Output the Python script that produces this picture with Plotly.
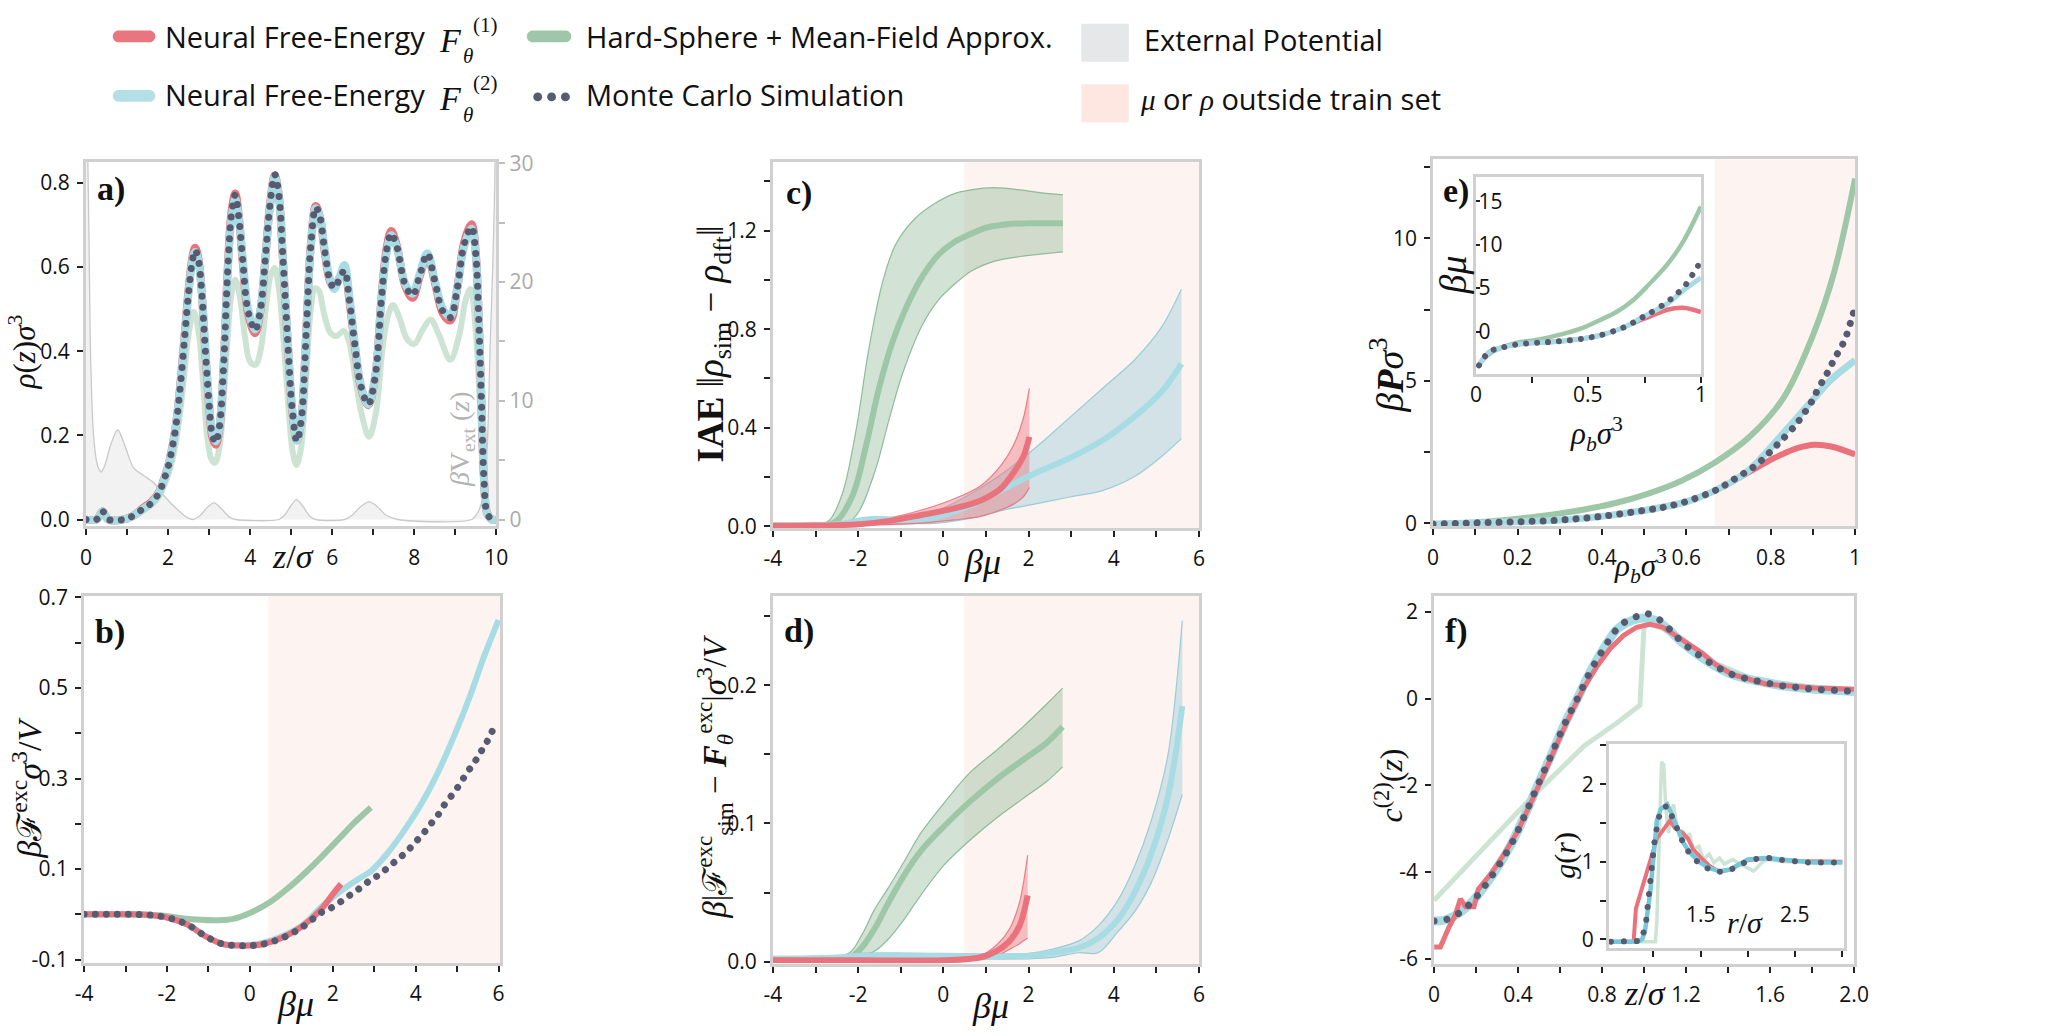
import plotly.graph_objects as go

W, H = 2048, 1036

# ---------------- data ----------------
# (a) density profiles and external potential
a_z = [0, 0.25, 0.32, 0.4, 0.48, 0.55, 0.9, 1.13, 1.38, 1.6, 1.78, 1.9, 2.0, 2.1, 2.2, 2.3, 2.4, 2.5,
       2.6, 2.66, 2.74, 2.82, 2.9, 3.0, 3.08, 3.16, 3.25, 3.35, 3.45, 3.55, 3.64, 3.72, 3.82, 3.95,
       4.12, 4.25, 4.37, 4.48, 4.6, 4.7, 4.8, 4.92, 5.03, 5.14, 5.25, 5.37, 5.48, 5.6, 5.7, 5.82,
       5.95, 6.05, 6.18, 6.3, 6.42, 6.55, 6.7, 6.88, 7.05, 7.2, 7.32, 7.44, 7.58, 7.78, 7.96, 8.14,
       8.32, 8.5, 8.7, 8.88, 9.05, 9.22, 9.4, 9.5, 9.58, 9.64, 9.7, 9.78, 9.9, 10]
a_blue = [0, 0, 0.008, 0.02, 0.008, 0, 0, 0.008, 0.025, 0.04, 0.064, 0.095, 0.125, 0.17, 0.23, 0.32,
          0.43, 0.54, 0.62, 0.636, 0.615, 0.54, 0.42, 0.28, 0.205, 0.186, 0.22, 0.36, 0.58, 0.72,
          0.762, 0.72, 0.62, 0.5, 0.452, 0.5, 0.62, 0.74, 0.815, 0.77, 0.62, 0.42, 0.26, 0.188, 0.24,
          0.45, 0.65, 0.74, 0.72, 0.64, 0.57, 0.548, 0.575, 0.605, 0.53, 0.42, 0.32, 0.274, 0.34,
          0.52, 0.63, 0.676, 0.645, 0.56, 0.537, 0.585, 0.633, 0.57, 0.5, 0.483, 0.55, 0.65, 0.691,
          0.63, 0.46, 0.28, 0.1, 0.015, 0, 0]
a_red = [0, 0, 0.008, 0.02, 0.008, 0, 0, 0.008, 0.027, 0.043, 0.066, 0.097, 0.127, 0.172, 0.232, 0.324,
         0.436, 0.548, 0.628, 0.646, 0.62, 0.54, 0.41, 0.27, 0.195, 0.178, 0.215, 0.36, 0.59, 0.735,
         0.775, 0.725, 0.61, 0.49, 0.443, 0.495, 0.62, 0.745, 0.818, 0.77, 0.615, 0.415, 0.255, 0.188,
         0.24, 0.45, 0.655, 0.745, 0.72, 0.635, 0.565, 0.552, 0.575, 0.592, 0.52, 0.415, 0.315,
         0.272, 0.34, 0.525, 0.64, 0.686, 0.65, 0.555, 0.527, 0.58, 0.628, 0.565, 0.49, 0.473, 0.55,
         0.66, 0.702, 0.635, 0.46, 0.28, 0.1, 0.015, 0, 0]
a_mc = [0, 0, 0.008, 0.02, 0.008, 0, 0, 0.008, 0.025, 0.04, 0.064, 0.095, 0.125, 0.17, 0.23, 0.32,
        0.43, 0.54, 0.62, 0.64, 0.617, 0.54, 0.415, 0.275, 0.2, 0.183, 0.22, 0.36, 0.585, 0.73,
        0.772, 0.722, 0.615, 0.495, 0.45, 0.498, 0.62, 0.745, 0.82, 0.772, 0.62, 0.418, 0.258, 0.186,
        0.24, 0.45, 0.652, 0.742, 0.72, 0.637, 0.567, 0.55, 0.572, 0.592, 0.522, 0.418, 0.318,
        0.274, 0.34, 0.522, 0.636, 0.68, 0.648, 0.558, 0.533, 0.582, 0.632, 0.568, 0.495, 0.48,
        0.55, 0.655, 0.695, 0.632, 0.46, 0.28, 0.1, 0.015, 0, 0]
a_z_green = [0, 0.25, 0.32, 0.4, 0.48, 0.55, 0.9, 1.13, 1.38, 1.6, 1.78, 1.9, 2.0, 2.1, 2.2, 2.3, 2.4,
             2.5, 2.62, 2.74, 2.85, 2.95, 3.05, 3.14, 3.25, 3.35, 3.45, 3.55, 3.64, 3.75, 3.88, 4.0,
             4.13, 4.25, 4.38, 4.5, 4.6, 4.7, 4.82, 4.94, 5.04, 5.13, 5.24, 5.36, 5.48, 5.58, 5.67,
             5.8, 5.95, 6.1, 6.28, 6.42, 6.56, 6.72, 6.9, 7.06, 7.22, 7.35, 7.48, 7.64, 7.82, 8.0,
             8.2, 8.4, 8.6, 8.88, 9.1, 9.25, 9.37, 9.5, 9.6, 9.68, 9.75, 9.85, 10]
a_green = [0, 0, 0.006, 0.015, 0.006, 0, 0, 0.006, 0.02, 0.035, 0.055, 0.08, 0.105, 0.14, 0.19, 0.26,
           0.35, 0.44, 0.494, 0.45, 0.33, 0.2, 0.145, 0.135, 0.17, 0.28, 0.43, 0.54, 0.57, 0.53, 0.43,
           0.375, 0.368, 0.40, 0.5, 0.58, 0.598, 0.55, 0.42, 0.26, 0.16, 0.13, 0.17, 0.33, 0.5, 0.55,
           0.545, 0.49, 0.445, 0.436, 0.448, 0.42, 0.34, 0.25, 0.197, 0.25, 0.4, 0.48, 0.51, 0.48,
           0.43, 0.417, 0.45, 0.475, 0.44, 0.38, 0.44, 0.52, 0.548, 0.45, 0.28, 0.12, 0.03, 0, 0]
a_z_ext = [0, 0.03, 0.07, 0.1, 0.14, 0.18, 0.25, 0.32, 0.37, 0.45, 0.6, 0.77, 0.95, 1.15, 1.4, 1.65,
           1.9, 2.2, 2.45, 2.6, 2.8, 2.95, 3.12, 3.3, 3.5, 3.65, 4.7, 4.85, 5.0, 5.13, 5.27, 5.45,
           5.6, 6.3, 6.5, 6.7, 6.9, 7.1, 7.3, 7.6, 9.4, 9.55, 9.69, 9.78, 9.85, 9.92, 9.97, 10]
a_ext = [40, 33, 24, 15.5, 10, 7.2, 5.0, 4.2, 4.0, 4.5, 6.3, 7.56, 6.2, 4.4, 3.7, 3.1, 2.0, 0.93, 0.2,
         0.0, 0.4, 1.0, 1.4, 0.9, 0.2, 0.0, 0.0, 0.4, 1.2, 1.67, 1.2, 0.3, 0.0, 0.0, 0.4, 1.1, 1.48,
         1.1, 0.4, 0.0, 0.0, 0.6, 2.0, 6.0, 14.4, 22, 29.4, 40]

# (b) excess free energy
b_mu_red = [-4, -3, -2.5, -2.0, -1.52, -1.04, -0.64, -0.25, 0.03, 0.31, 0.79, 1.27, 1.74, 1.98, 2.2]
b_red = [0.0, 0.0, -0.001, -0.007, -0.022, -0.05, -0.066, -0.069, -0.069, -0.066, -0.051, -0.026,
         0.013, 0.042, 0.067]
b_mu_blue = [-4, -3, -2.5, -2.0, -1.52, -1.04, -0.64, -0.25, 0.03, 0.31, 0.79, 1.27, 1.74, 2.22, 2.62,
             2.94, 3.33, 3.73, 4.13, 4.53, 4.93, 5.32, 5.64, 6.0]
b_blue = [0.0, 0.0, -0.001, -0.007, -0.022, -0.05, -0.066, -0.068, -0.067, -0.063, -0.048, -0.024,
          0.018, 0.053, 0.078, 0.097, 0.136, 0.186, 0.243, 0.312, 0.394, 0.484, 0.567, 0.65]
b_mu_mc = [-4, -3, -2.5, -2.0, -1.52, -1.04, -0.64, -0.25, 0.03, 0.31, 0.79, 1.27, 1.74, 1.98, 2.21,
           2.44, 2.66, 2.90, 3.11, 3.33, 3.56, 3.77, 3.97, 4.17, 4.35, 4.53, 4.70, 4.89, 5.07, 5.23,
           5.40, 5.56, 5.72, 5.86]
b_mc = [0.0, 0.0, -0.001, -0.007, -0.022, -0.05, -0.066, -0.069, -0.069, -0.066, -0.052, -0.028, 0.005,
        0.015, 0.029, 0.044, 0.058, 0.075, 0.087, 0.103, 0.121, 0.137, 0.157, 0.177, 0.198, 0.218,
        0.243, 0.265, 0.288, 0.312, 0.333, 0.357, 0.381, 0.407]
b_mu_green = [-4, -3, -2.2, -1.68, -1.2, -0.8, -0.4, 0.0, 0.47, 0.95, 1.35, 1.74, 2.14, 2.54, 2.92]
b_green = [0.0, 0.0, -0.002, -0.008, -0.012, -0.013, -0.01, 0.003, 0.026, 0.06, 0.093, 0.128, 0.166,
           0.204, 0.236]

# (c) IAE of density
c_mu_green = [-4, -3.5, -2.98, -2.52, -2.13, -1.82, -1.51, -1.2, -0.9, -0.51, -0.12, 0.26, 0.65, 1.03,
              1.5, 2.19, 2.81]
c_green = [0.0, 0.0, 0.0, 0.02, 0.125, 0.323, 0.56, 0.745, 0.877, 1.009, 1.101, 1.154, 1.187, 1.213,
           1.226, 1.23, 1.23]
c_mu_green_up = [-4, -3, -2.67, -2.36, -2.05, -1.75, -1.44, -1.13, -0.66, -0.2, 0.26, 0.65, 1.19, 1.81,
                 2.27, 2.81]
c_green_up = [0.0, 0.003, 0.026, 0.138, 0.389, 0.719, 0.982, 1.14, 1.25, 1.31, 1.35, 1.365, 1.374,
              1.365, 1.354, 1.345]
c_mu_green_lo = [-4, -3, -2.29, -1.98, -1.59, -1.28, -0.97, -0.51, -0.12, 0.26, 0.65, 1.19, 1.81, 2.81]
c_green_lo = [0.0, 0.0, 0.007, 0.06, 0.231, 0.429, 0.613, 0.811, 0.917, 0.982, 1.035, 1.075, 1.095,
              1.114]
c_mu_red = [-4, -3, -2.05, -1.28, -0.51, 0.26, 0.88, 1.34, 1.65, 1.88, 2.02]
c_red = [0.002, 0.003, 0.007, 0.022, 0.046, 0.073, 0.105, 0.152, 0.218, 0.284, 0.363]
c_red_up = [0.003, 0.004, 0.012, 0.033, 0.066, 0.112, 0.165, 0.244, 0.33, 0.44, 0.56]
c_red_lo = [0.0, 0.001, 0.003, 0.007, 0.013, 0.026, 0.04, 0.066, 0.09, 0.12, 0.158]
c_mu_blue = [-4, -3, -2.44, -2.05, -1.67, -0.9, -0.12, 0.65, 1.42, 2.19, 2.97, 3.74, 4.51, 5.13, 5.59]
c_blue = [0.004, 0.005, 0.008, 0.02, 0.03, 0.026, 0.04, 0.086, 0.152, 0.218, 0.277, 0.349, 0.448,
          0.547, 0.659]
c_blue_up = [0.006, 0.007, 0.013, 0.03, 0.036, 0.033, 0.066, 0.132, 0.218, 0.323, 0.442, 0.56, 0.679,
             0.81, 0.963]
c_blue_lo = [0.002, 0.002, 0.003, 0.005, 0.007, 0.01, 0.013, 0.033, 0.066, 0.092, 0.119, 0.145, 0.204,
             0.284, 0.356]

# (d) free-energy error
d_mu_green = [-4, -3, -2.22, -1.92, -1.61, -1.3, -0.91, -0.53, 0.02, 0.63, 1.25, 1.87, 2.41, 2.8]
d_green = [0.002, 0.002, 0.0025, 0.01, 0.024, 0.042, 0.063, 0.08, 0.098, 0.116, 0.132, 0.146, 0.158,
           0.17]
d_green_up = [0.003, 0.003, 0.006, 0.019, 0.038, 0.053, 0.073, 0.093, 0.115, 0.137, 0.153, 0.17, 0.186,
              0.198]
d_green_lo = [0.001, 0.001, 0.001, 0.003, 0.0076, 0.016, 0.031, 0.048, 0.07, 0.088, 0.104, 0.118,
              0.13, 0.141]
d_mu_red = [-4, -2, 0, 0.86, 1.25, 1.56, 1.79, 1.98]
d_red = [0.001, 0.001, 0.001, 0.003, 0.0076, 0.015, 0.026, 0.048]
d_red_up = [0.002, 0.002, 0.002, 0.004, 0.012, 0.024, 0.043, 0.077]
d_red_lo = [0.0, 0.0, 0.0, 0.0015, 0.004, 0.009, 0.013, 0.017]
d_mu_blue = [-4, -2.5, -2, 0, 2.0, 2.56, 3.18, 3.64, 4.11, 4.49, 4.88, 5.27, 5.61]
d_blue = [0.002, 0.003, 0.004, 0.004, 0.004, 0.0064, 0.01, 0.017, 0.031, 0.05, 0.078, 0.119, 0.185]
d_blue_up = [0.003, 0.004, 0.006, 0.006, 0.006, 0.009, 0.015, 0.026, 0.045, 0.069, 0.102, 0.149, 0.247]
d_blue_lo = [0.001, 0.002, 0.002, 0.002, 0.002, 0.003, 0.0064, 0.0064, 0.022, 0.036, 0.057, 0.088,
             0.121]

# (e) equation of state
e_rho_green = [0, 0.12, 0.2, 0.28, 0.355, 0.43, 0.51, 0.59, 0.667, 0.75, 0.83, 0.9, 0.95, 1.0]
e_green = [-0.05, 0.06, 0.17, 0.31, 0.48, 0.71, 1.05, 1.51, 2.13, 3.04, 4.4, 6.6, 8.8, 12.1]
e_rho_mc = [0, 0.1, 0.2, 0.3, 0.4, 0.5, 0.55, 0.6, 0.66, 0.684, 0.708, 0.732, 0.755, 0.779, 0.798,
            0.818, 0.857, 0.877, 0.895, 0.908, 0.924, 0.938, 0.951, 0.967, 0.979, 0.989, 0.998]
e_mc = [-0.02, 0.02, 0.06, 0.12, 0.25, 0.46, 0.58, 0.77, 1.1, 1.28, 1.5, 1.72, 1.93, 2.22, 2.5, 2.8,
        3.42, 3.82, 4.22, 4.6, 5.02, 5.38, 5.78, 6.18, 6.58, 7.04, 7.49]
e_rho_nn = [0, 0.1, 0.2, 0.3, 0.4, 0.5, 0.6, 0.66, 0.7, 0.747, 0.787, 0.826, 0.865, 0.904, 0.943, 1.0]
e_blue = [-0.02, 0.02, 0.06, 0.12, 0.25, 0.46, 0.76, 1.1, 1.4, 1.85, 2.45, 3.1, 3.75, 4.41, 5.04, 5.72]
e_red = [-0.02, 0.02, 0.06, 0.12, 0.25, 0.46, 0.76, 1.1, 1.4, 1.79, 2.13, 2.42, 2.65, 2.76, 2.7, 2.42]
# (e) inset: chemical potential
ie_rho_green = [0.015, 0.05, 0.11, 0.18, 0.26, 0.33, 0.40, 0.48, 0.55, 0.625, 0.70, 0.77, 0.85, 0.92,
                1.0]
ie_green = [-3.9, -2.8, -1.9, -1.3, -1.0, -0.64, -0.19, 0.49, 1.31, 2.25, 3.64, 5.44, 7.7, 10.3, 14.4]
ie_rho_nn = [0.015, 0.037, 0.066, 0.11, 0.18, 0.26, 0.33, 0.40, 0.48, 0.55, 0.625, 0.68, 0.73, 0.77,
             0.85, 0.92, 1.0]
ie_blue = [-3.9, -3.0, -2.25, -1.9, -1.5, -1.3, -1.2, -1.05, -0.8, -0.45, 0.15, 0.75, 1.5, 2.06, 3.19,
           4.69, 6.19]
ie_red = [-3.9, -3.0, -2.25, -1.9, -1.5, -1.3, -1.2, -1.05, -0.8, -0.45, 0.15, 0.75, 1.3, 1.69, 2.51,
          2.74, 2.25]
ie_rho_mc = [0.015, 0.037, 0.066, 0.11, 0.18, 0.26, 0.33, 0.40, 0.48, 0.55, 0.625, 0.68, 0.73, 0.77,
             0.85, 0.9, 0.934, 0.963, 0.99]
ie_mc = [-3.9, -3.0, -2.25, -1.9, -1.5, -1.3, -1.2, -1.05, -0.8, -0.45, 0.15, 0.75, 1.5, 2.06, 3.4, 4.5,
         5.44, 6.56, 7.69]
ie_ticks = [0, 0.5, 1]
ie_ticktext = ["0", "0.5", "1"]

# (f) direct correlation function
f_z_mc = [0, 0.055, 0.118, 0.18, 0.243, 0.306, 0.369, 0.431, 0.494, 0.557, 0.62, 0.682, 0.745, 0.808,
          0.87, 0.918, 0.965, 1.004, 1.06, 1.12, 1.18, 1.26, 1.34, 1.42, 1.5, 1.58, 1.655, 1.73, 1.81,
          1.89, 2.0]
f_mc = [-5.13, -5.1, -4.95, -4.69, -4.31, -3.86, -3.34, -2.7, -1.99, -1.31, -0.6, 0.0, 0.64, 1.16,
        1.61, 1.8, 1.9, 1.97, 1.87, 1.61, 1.31, 1.01, 0.75, 0.56, 0.45, 0.37, 0.3, 0.26, 0.22, 0.2, 0.17]
f_blue = [-5.13, -5.1, -4.95, -4.69, -4.31, -3.86, -3.34, -2.7, -1.99, -1.31, -0.6, 0.0, 0.64, 1.16,
          1.6, 1.76, 1.84, 1.86, 1.8, 1.58, 1.3, 1.0, 0.75, 0.56, 0.45, 0.37, 0.3, 0.26, 0.22, 0.2, 0.17]
f_z_red = [0, 0.03, 0.07, 0.1, 0.125, 0.15, 0.19, 0.21, 0.275, 0.337, 0.4, 0.463, 0.525, 0.588, 0.651,
           0.714, 0.776, 0.839, 0.902, 0.965, 1.027, 1.09, 1.153, 1.216, 1.278, 1.34, 1.42, 1.58, 1.81,
           2.0]
f_red = [-5.73, -5.73, -5.28, -5.0, -4.62, -4.8, -4.8, -4.4, -4.01, -3.56, -3.04, -2.4, -1.72, -1.01,
         -0.34, 0.26, 0.75, 1.16, 1.46, 1.65, 1.72, 1.65, 1.46, 1.24, 1.05, 0.79, 0.56, 0.34, 0.25, 0.22]
f_z_green = [0, 0.243, 0.478, 0.714, 0.87, 0.98, 1.0, 1.03, 1.18, 1.34, 1.5, 1.73, 2.0]
f_green = [-4.65, -3.41, -2.21, -1.09, -0.56, -0.15, 1.7, 1.76, 1.39, 0.82, 0.49, 0.3, 0.19]
# (f) inset: pair correlation g(r)
if_r_blue = [0.53, 0.83, 0.88, 0.91, 0.97, 1.01, 1.036, 1.077, 1.146, 1.2, 1.257, 1.31, 1.38, 1.48,
             1.59, 1.7, 1.81, 1.9, 2.0, 2.18, 2.35, 2.53, 2.7, 3.0]
if_blue = [-0.03, -0.03, 0.0, 0.1, 0.65, 1.2, 1.53, 1.68, 1.74, 1.6, 1.41, 1.26, 1.13, 1.0, 0.92, 0.88,
           0.9, 0.96, 1.03, 1.05, 1.03, 1.01, 0.99, 0.99]
if_r_mc = [0.55, 0.66, 0.77, 0.87, 0.92, 0.95, 0.98, 1.01, 1.05, 1.1, 1.15, 1.2, 1.26, 1.33, 1.42, 1.52,
           1.63, 1.74, 1.86, 1.98, 2.1, 2.24, 2.38, 2.52, 2.66, 2.8, 2.94]
if_mc = [-0.03, -0.03, -0.03, -0.02, 0.2, 0.55, 0.95, 1.25, 1.55, 1.7, 1.72, 1.58, 1.38, 1.2, 1.05,
         0.95, 0.88, 0.87, 0.92, 1.0, 1.04, 1.05, 1.02, 1.0, 0.99, 0.99, 0.99]
if_r_red = [0.53, 0.79, 0.815, 0.87, 0.925, 0.98, 1.036, 1.105, 1.174, 1.23, 1.31, 1.367, 1.42, 1.49,
            1.59, 1.7, 1.81, 2.0, 2.2, 2.5, 3.0]
if_red = [-0.03, -0.03, 0.4, 0.61, 0.82, 1.07, 1.3, 1.41, 1.53, 1.43, 1.37, 1.3, 1.16, 1.07, 0.95, 0.87,
          0.9, 1.02, 1.05, 1.01, 1.0]
if_r_green = [0.53, 1.02, 1.036, 1.06, 1.086, 1.11, 1.13, 1.16, 1.19, 1.215, 1.243, 1.28, 1.31, 1.345,
              1.38, 1.42, 1.48, 1.53, 1.59, 1.64, 1.7, 1.75, 1.84, 1.95, 2.06, 2.15, 2.2, 2.4, 3.0]
if_green = [-0.03, -0.03, 0.23, 1.07, 2.29, 2.25, 1.7, 1.37, 1.66, 1.74, 1.49, 1.32, 1.41, 1.28, 1.37,
            1.16, 1.2, 1.03, 1.1, 0.99, 1.05, 0.97, 1.03, 0.95, 0.88, 0.99, 1.03, 1.0, 1.0]
if_label_vals = [1.5, 2.5]

# train-set limits
mu_train_b = 0.45
mu_train_cd = 0.49
rho_train = 0.667

# ---------------- styling ----------------
RED = "#ea727c"
BLUE = "#a8dce4"
BLUE_DEEP = "#74c8da"
GREEN = "#9ec7a7"
GREEN_PALE = "#cde4d4"
MCC = "#565b70"
FRAME = "#d0d0d0"
PINK = "#fdf3f0"
SANS = "Open Sans"
SERIF = "Liberation Serif"
TICK = 21


def X(p):
    return p / W


def Y(p):
    return 1 - p / H


fig = go.Figure()


def line(x, y, xa, ya, color, width, shape="spline", dash=None, smoothing=1.0):
    fig.add_trace(go.Scatter(x=x, y=y, xaxis=xa, yaxis=ya, mode="lines",
                             line=dict(color=color, width=width, shape=shape, dash=dash,
                                       smoothing=smoothing),
                             showlegend=False, hoverinfo="skip"))


def mc(x, y, xa, ya, width=7, gap=11, shape="spline"):
    line(x, y, xa, ya, MCC, width, shape=shape, dash="1px,%dpx" % gap)


def band(xu, yu, xl, yl, xa, ya, fill, edge):
    fig.add_trace(go.Scatter(x=xl, y=yl, xaxis=xa, yaxis=ya, mode="lines",
                             line=dict(color=edge, width=1.2, shape="spline", smoothing=0.9),
                             showlegend=False, hoverinfo="skip"))
    fig.add_trace(go.Scatter(x=xu, y=yu, xaxis=xa, yaxis=ya, mode="lines", fill="tonexty",
                             fillcolor=fill,
                             line=dict(color=edge, width=1.2, shape="spline", smoothing=0.9),
                             showlegend=False, hoverinfo="skip"))


# (a)
fig.add_trace(go.Scatter(x=a_z_ext, y=a_ext, xaxis="x", yaxis="y", mode="lines", fill="tozeroy",
                         fillcolor="#f2f2f2", line=dict(color="#c9c9c9", width=1.3, shape="spline",
                                                        smoothing=0.8),
                         showlegend=False, hoverinfo="skip"))
line(a_z_green, a_green, "x", "y2", GREEN_PALE, 6)
line(a_z, a_red, "x", "y2", RED, 8)
line(a_z, a_blue, "x", "y2", BLUE, 8)
mc(a_z, a_mc, "x", "y2", width=7, gap=11)

# (b)
line(b_mu_green, b_green, "x2", "y3", GREEN, 6)
line(b_mu_blue, b_blue, "x2", "y3", BLUE, 6)
line(b_mu_red, b_red, "x2", "y3", RED, 6)
mc(b_mu_mc, b_mc, "x2", "y3", width=7, gap=11)

# (c)
band(c_mu_green_up, c_green_up, c_mu_green_lo, c_green_lo, "x3", "y4",
     "rgba(130,178,142,0.36)", "rgba(125,180,140,0.85)")
band(c_mu_blue, c_blue_up, c_mu_blue, c_blue_lo, "x3", "y4",
     "rgba(140,200,212,0.38)", "rgba(140,200,212,0.85)")
band(c_mu_red, c_red_up, c_mu_red, c_red_lo, "x3", "y4",
     "rgba(234,114,124,0.42)", "rgba(234,114,124,0.9)")
line(c_mu_green, c_green, "x3", "y4", GREEN, 6)
line(c_mu_blue, c_blue, "x3", "y4", BLUE, 6)
line(c_mu_red, c_red, "x3", "y4", RED, 6)

# (d)
band(d_mu_green, d_green_up, d_mu_green, d_green_lo, "x4", "y5",
     "rgba(130,178,142,0.36)", "rgba(125,180,140,0.85)")
band(d_mu_blue, d_blue_up, d_mu_blue, d_blue_lo, "x4", "y5",
     "rgba(140,200,212,0.38)", "rgba(140,200,212,0.85)")
band(d_mu_red, d_red_up, d_mu_red, d_red_lo, "x4", "y5",
     "rgba(234,114,124,0.42)", "rgba(234,114,124,0.9)")
line(d_mu_green, d_green, "x4", "y5", GREEN, 6)
line(d_mu_blue, d_blue, "x4", "y5", BLUE, 6)
line(d_mu_red, d_red, "x4", "y5", RED, 6)

# (e)
line(e_rho_green, e_green, "x5", "y6", GREEN, 6)
line(e_rho_nn, e_red, "x5", "y6", RED, 6)
line(e_rho_nn, e_blue, "x5", "y6", BLUE, 7)
mc(e_rho_mc, e_mc, "x5", "y6", width=7, gap=11)
# (e) inset
line(ie_rho_green, ie_green, "x6", "y7", GREEN, 4.5)
line(ie_rho_nn, ie_red, "x6", "y7", RED, 4.5)
line(ie_rho_nn, ie_blue, "x6", "y7", BLUE, 5)
mc(ie_rho_mc, ie_mc, "x6", "y7", width=6, gap=11)

# (f)
line(f_z_green, f_green, "x7", "y8", GREEN_PALE, 5, shape="linear")
line(f_z_mc, f_blue, "x7", "y8", BLUE, 9)
line(f_z_red, f_red, "x7", "y8", RED, 5, shape="linear")
mc(f_z_mc, f_mc, "x7", "y8", width=7, gap=13)
# (f) inset
line(if_r_green, if_green, "x8", "y9", GREEN_PALE, 3.5, shape="linear")
line(if_r_red, if_red, "x8", "y9", RED, 4, shape="linear")
line(if_r_blue, if_blue, "x8", "y9", BLUE_DEEP, 4.5, shape="linear")
mc(if_r_mc, if_mc, "x8", "y9", width=6, gap=13, shape="linear")


# ---------------- axes ----------------
def axis(domain, rng, anchor, tv=None, tt=None, minor=None, tcol="#222", **kw):
    d = dict(domain=domain, range=rng, anchor=anchor, showline=True, linecolor=FRAME,
             linewidth=3, mirror=True, showgrid=False, zeroline=False, ticks="outside",
             ticklen=6, tickwidth=2, tickcolor=tcol,
             tickfont=dict(family=SANS, size=TICK, color="#111"))
    if tv is not None:
        d.update(tickmode="array", tickvals=tv,
                 ticktext=tt if tt is not None else [str(v) for v in tv])
    if minor is not None:
        d["minor"] = dict(tickmode="array", tickvals=minor, ticks="outside", ticklen=6,
                          tickwidth=2, tickcolor=tcol, showgrid=False)
    d.update(kw)
    return d


def dx(a, b):
    return [X(a), X(b)]


def dy(top, bot):
    return [Y(bot), Y(top)]


mu_ticks = [-4, -2, 0, 2, 4, 6]
mu_text = ["-4", "-2", "0", "2", "4", "6"]
mu_minor = [-3, -1, 1, 3, 5]

layout = dict(
    width=W, height=H, margin=dict(l=0, r=0, t=0, b=0),
    paper_bgcolor="white", plot_bgcolor="white", showlegend=False,
    # (a)
    xaxis=axis(dx(78, 493), [0, 10], "y", [0, 2, 4, 6, 8, 10], None, [1, 3, 5, 7, 9],
               ticklabelstandoff=4),
    yaxis=axis(dy(152, 525), [-0.575, 30.08], "x", [0, 10, 20, 30], None, [5, 15, 25],
               tcol="#bdbdbd", side="right",
               tickfont=dict(family=SANS, size=TICK, color="#aaaaaa")),
    yaxis2=axis(dy(152, 525), [-0.016, 0.849], "x", [0, 0.2, 0.4, 0.6, 0.8],
                ["0.0", "0.2", "0.4", "0.6", "0.8"], None, overlaying="y", side="left",
                ticklabelstandoff=3),
    # (b)
    xaxis2=axis(dx(76, 497), [-4, 6.04], "y3", mu_ticks, mu_text, mu_minor, ticklabelstandoff=4),
    yaxis3=axis(dy(596, 972), [-0.1065, 0.704], "x2", [-0.1, 0.1, 0.3, 0.5, 0.7],
                ["-0.1", "0.1", "0.3", "0.5", "0.7"], [0.0, 0.2, 0.4, 0.6], ticklabelstandoff=3),
    # (c)
    xaxis3=axis(dx(773, 1204), [-4, 6.0], "y4", mu_ticks, mu_text, mu_minor, ticklabelstandoff=4),
    yaxis4=axis(dy(152, 527), [-0.008, 1.477], "x3", [0, 0.4, 0.8, 1.2],
                ["0.0", "0.4", "0.8", "1.2"], [0.2, 0.6, 1.0, 1.4], ticklabelstandoff=3),
    # (d)
    xaxis4=axis(dx(773, 1204), [-4, 6.0], "y5", mu_ticks, mu_text, mu_minor, ticklabelstandoff=4),
    yaxis5=axis(dy(596, 973), [-0.0014, 0.265], "x4", [0, 0.1, 0.2], ["0.0", "0.1", "0.2"],
                [0.05, 0.15, 0.25], ticklabelstandoff=3),
    # (e)
    xaxis5=axis(dx(1441, 1868), [0, 1], "y6", [0, 0.2, 0.4, 0.6, 0.8, 1],
                ["0", "0.2", "0.4", "0.6", "0.8", "1"], [0.1, 0.3, 0.5, 0.7, 0.9],
                ticklabelstandoff=4),
    yaxis6=axis(dy(149, 525), [-0.1, 12.77], "x5", [0, 5, 10], ["0", "5", "10"],
                [2.5, 7.5, 12.5], ticklabelstandoff=3),
    # (e) inset
    xaxis6=axis(dx(1484, 1712), [0, 1], "y7", ie_ticks, ie_ticktext, [0.25, 0.75],
                showticklabels=False),
    yaxis7=axis(dy(167, 369), [-4.9, 17.8], "x6", [0, 5, 10, 15], ["0", "5", "10", "15"], None,
                ticks="inside", ticklabelposition="inside", ticklen=4),
    # (f)
    xaxis7=axis(dx(1442, 1867), [0, 2], "y8", [0, 0.4, 0.8, 1.2, 1.6, 2.0],
                ["0", "0.4", "0.8", "1.2", "1.6", "2.0"], [0.2, 0.6, 1.0, 1.4, 1.8],
                ticklabelstandoff=4),
    yaxis8=axis(dy(596, 973), [-6.11, 2.38], "x7", [-6, -4, -2, 0, 2],
                ["-6", "-4", "-2", "0", "2"], None, ticklabelstandoff=3),
    # (f) inset
    xaxis8=axis(dx(1619, 1857), [0.53, 3.02], "y9", [1.0, 1.5, 2.0, 2.5, 3.0], None, None,
                showticklabels=False),
    yaxis9=axis(dy(748, 957), [-0.11, 2.52], "x8", [0, 1, 2], ["0", "1", "2"], [0.5, 1.5, 2.5],
                ticklabelstandoff=2),
)
fig.update_layout(**layout)

# ---------------- shapes ----------------
shapes = []


def shade(xa, ya, x0, x1):
    shapes.append(dict(type="rect", xref=xa, yref=ya + " domain", x0=x0, x1=x1, y0=0, y1=1,
                       fillcolor=PINK, line=dict(width=0), layer="below"))


shade("x2", "y3", mu_train_b, 6.04)
shade("x3", "y4", mu_train_cd, 6.0)
shade("x4", "y5", mu_train_cd, 6.0)
shade("x5", "y6", rho_train, 1.0)
shade("x6", "y7", rho_train, 1.0)


def pill(x0, x1, yc, h, color):
    r = h / 2.0
    k = 0.5523 * r
    pts = [("M", [(x0 + r, yc - r)]), ("L", [(x1 - r, yc - r)]),
           ("C", [(x1 - r + k, yc - r), (x1, yc - k), (x1, yc)]),
           ("C", [(x1, yc + k), (x1 - r + k, yc + r), (x1 - r, yc + r)]),
           ("L", [(x0 + r, yc + r)]),
           ("C", [(x0 + r - k, yc + r), (x0, yc + k), (x0, yc)]),
           ("C", [(x0, yc - k), (x0 + r - k, yc - r), (x0 + r, yc - r)])]
    path = ""
    for cmd, ps in pts:
        path += cmd + " " + " ".join("%.5f,%.5f" % (X(a), Y(b)) for a, b in ps) + " "
    path += "Z"
    shapes.append(dict(type="path", xref="paper", yref="paper", path=path, fillcolor=color,
                       line=dict(width=0)))


def box(x0, x1, y0, y1, color):
    shapes.append(dict(type="rect", xref="paper", yref="paper", x0=X(x0), x1=X(x1), y0=Y(y1),
                       y1=Y(y0), fillcolor=color, line=dict(width=0)))


def dot(xc, yc, r, color):
    shapes.append(dict(type="circle", xref="paper", yref="paper", x0=X(xc - r), x1=X(xc + r),
                       y0=Y(yc + r), y1=Y(yc - r), fillcolor=color, line=dict(width=0)))


R1, R2 = 23, 83
pill(105, 148, R1, 12, "#e9757e")
pill(524, 569, R1, 12, "#9fc6a8")
pill(105, 148, R2 + 1, 12, "#b4dfe6")
for xc in (535, 549, 563):
    dot(xc, R2 + 2, 4.5, MCC)
box(1085, 1133, 10, 49, "#e6e7e9")
box(1085, 1133, 72, 111, "#fde7e0")
fig.update_layout(shapes=shapes)

# ---------------- annotations ----------------
anns = []


def ann(text, x, y, size=22, family=SANS, color="#111", angle=0, xanchor="center",
        yanchor="middle"):
    anns.append(dict(text=text, x=X(x), y=Y(y), xref="paper", yref="paper", showarrow=False,
                     textangle=angle, xanchor=xanchor, yanchor=yanchor, borderpad=0,
                     font=dict(family=family, size=size, color=color)))


LG = 29
# legend
for row, k in ((R1, "1"), (R2, "2")):
    ann("Neural Free-Energy", 157, row, LG, xanchor="left")
    ann("<i>F</i>", 434, row + 4, 34, SERIF, xanchor="left")
    ann("<i>θ</i>", 458, row + 20, 21, SERIF, xanchor="left")
    ann("(%s)" % k, 468, row - 12, 21, SERIF, xanchor="left")
ann("Hard-Sphere + Mean-Field Approx.", 583, R1, LG, xanchor="left")
ann("Monte Carlo Simulation", 583, R2, LG, xanchor="left")
ann("External Potential", 1147, R1 + 3, LG, xanchor="left")
ann("<span style='font-family:Liberation Serif'><i>μ</i></span> or "
    "<span style='font-family:Liberation Serif'><i>ρ</i></span> outside train set",
    1143, R2 + 4, LG, xanchor="left")

# panel labels
for lab, x, y in [("a)", 88, 179), ("b)", 86, 633), ("c)", 785, 183), ("d)", 783, 632),
                  ("e)", 1450, 181), ("f)", 1452, 632)]:
    ann("<b>%s</b>" % lab, x, y, 34, SERIF, xanchor="left")

# axis titles
ann("<i>ρ</i>(<i>z</i>)<i>σ</i><sup>3</sup>", 14, 346, 31, SERIF, angle=-90)
ann("<i>z</i>/<i>σ</i>", 287, 556, 34, SERIF)
ann("<i>β</i>V<sub>ext</sub> (<i>z</i>)", 458, 436, 28, SERIF, color="#b3b3b3", angle=-90)
ann("<i>β</i>ℱ<sup>exc</sup><i>σ</i><sup>3</sup>/<i>V</i>", 18, 793, 34, SERIF, angle=-90)
ann("<i>βμ</i>", 290, 1014, 36, SERIF)
ann("<b>IAE</b> ‖<i>ρ</i><sub>sim</sub> − <i>ρ</i><sub>dft</sub>‖", 713, 338, 37, SERIF, angle=-90)
ann("<i>βμ</i>", 985, 562, 36, SERIF)
ann("<i>β</i>|ℱ<sup>exc</sup><sub>sim</sub> − <b><i>F</i></b><sub><i>θ</i></sub><sup>exc</sup>|"
    "<i>σ</i><sup>3</sup>/<i>V</i>", 714, 781, 33, SERIF, angle=-90)
ann("<i>βμ</i>", 993, 1017, 36, SERIF)
ann("<i>β</i><b><i>P</i></b><i>σ</i><sup>3</sup>", 1394, 370, 38, SERIF, angle=-90)
ann("<i>ρ</i><sub><i>b</i></sub><i>σ</i><sup>3</sup>", 1651, 566, 31, SERIF)
ann("<i>ρ</i><sub><i>b</i></sub><i>σ</i><sup>3</sup>", 1606, 430, 31, SERIF)
ann("<i>βμ</i>", 1461, 267, 38, SERIF, angle=-90)
ann("<i>c</i><sup>(2)</sup>(<i>z</i>)", 1396, 791, 32, SERIF, angle=-90)
ann("<i>z</i>/<i>σ</i>", 1655, 1004, 34, SERIF)
ann("<i>g</i>(<i>r</i>)", 1575, 862, 30, SERIF, angle=-90)
ann("<i>r</i>/<i>σ</i>", 1757, 931, 30, SERIF)
# inset tick labels drawn as text at their axis values
for v in if_label_vals:
    anns.append(dict(text="%.1f" % v, x=v, y=Y(939), xref="x8", yref="paper", showarrow=False,
                     font=dict(family=SANS, size=TICK, color="#111")))
for v, t in zip(ie_ticks, ie_ticktext):
    anns.append(dict(text=t, x=v, y=Y(389), xref="x6", yref="paper", showarrow=False,
                     font=dict(family=SANS, size=TICK, color="#111")))

fig.update_layout(annotations=anns)

post = """
var gd = document.getElementById('{plot_id}');
gd.querySelectorAll('path').forEach(function(p){
  var d = p.style.strokeDasharray || '';
  var parts = d.split(/[ ,]+/).filter(function(s){return s.length;});
  if (parts.length === 2 && parseFloat(parts[0]) === 1) {
    p.style.strokeLinecap = 'round';
    p.style.strokeDasharray = '0.001px,' + parts[1];
  }
});
"""

fig.write_html("out.html", post_script=post)
